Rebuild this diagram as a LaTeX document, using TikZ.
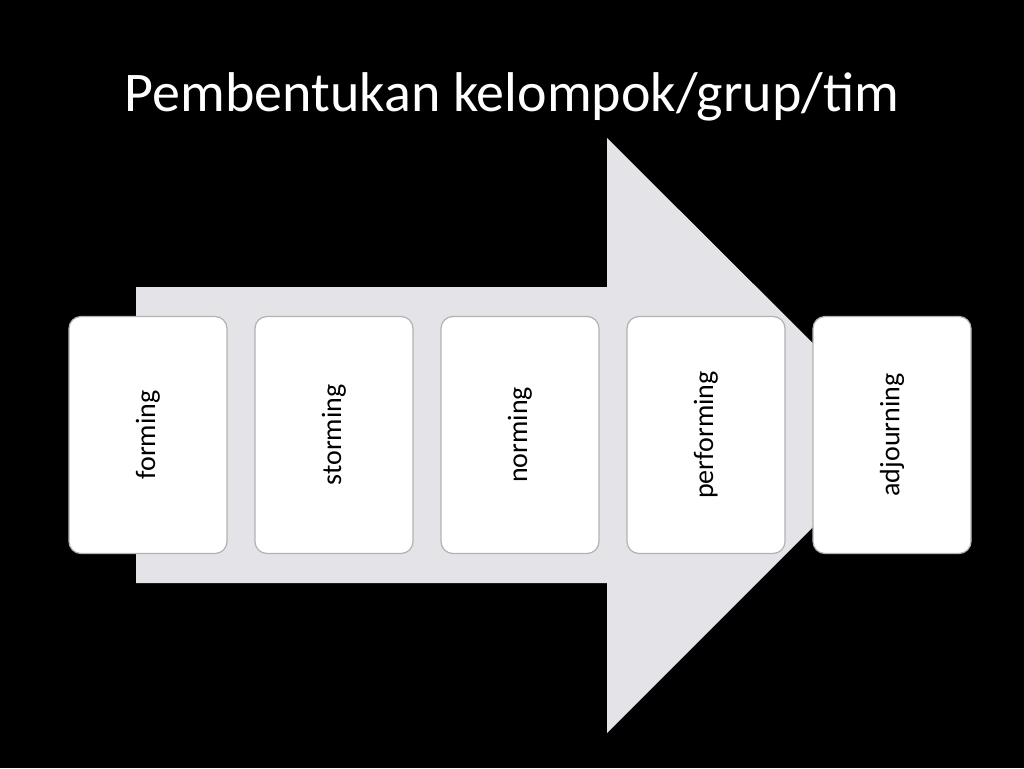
\documentclass[tikz,border=0pt]{standalone}
\usepackage{fontspec}
\setmainfont{Carlito}
\tikzset{
  stage/.style={draw=gray!60, line width=1.2pt, fill=white, rounded corners=12pt,
    minimum width=158pt, minimum height=237pt, inner sep=0pt},
  stagetext/.style={rotate=90, font=\fontsize{28}{30}\selectfont}
}
\begin{document}
\begin{tikzpicture}[x=1pt,y=-1pt]
\fill[black] (0,0) rectangle (1024,768);
\useasboundingbox (0,0) rectangle (1024,768);
\node (title) at (512,97) [text=white, font=\fontsize{56}{60}\selectfont] {Pembentukan kelompok/grup/tim};
\fill[blue!8!gray!20] (136,287) -- (607,287) -- (607,138) -- (905,435) -- (607,733) -- (607,583) -- (136,583) -- cycle;
\node (forming) at (148,435) [stage] {};
\node (storming) at (334,435) [stage] {};
\node (norming) at (520,435) [stage] {};
\node (performing) at (706,435) [stage] {};
\node (adjourning) at (892,435) [stage] {};
\foreach \n in {forming,storming,norming,performing,adjourning}
  \node at (\n) [stagetext] {\n};
\end{tikzpicture}
\end{document}
